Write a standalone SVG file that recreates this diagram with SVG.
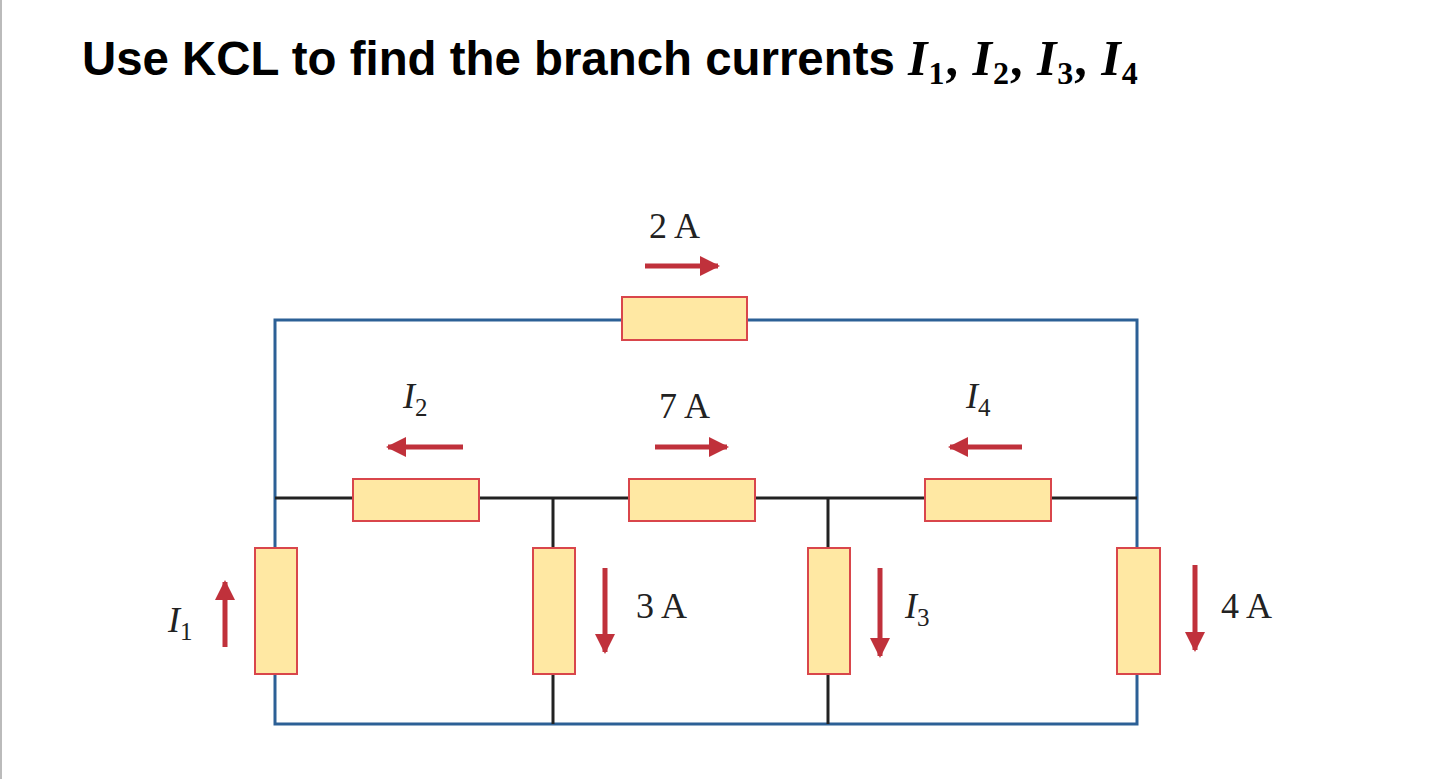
<svg xmlns="http://www.w3.org/2000/svg" width="1441" height="779" viewBox="0 0 1441 779">
<defs>
<style>
.r{fill:#FFE8A3;stroke:#D9464B;stroke-width:2}
.b{stroke:#2C6096;stroke-width:3;fill:none}
.k{stroke:#222;stroke-width:3;fill:none}
.a{stroke:#C0313B;stroke-width:5}
.t{font-family:"Liberation Serif",serif;font-size:36px;fill:#222}
.i{font-style:italic}
.s{font-size:25px}
</style>
<marker id="ah" viewBox="0 0 10 10" refX="9" refY="5" markerWidth="4.4" markerHeight="4" orient="auto" markerUnits="strokeWidth"><path d="M0,0L10,5L0,10z" fill="#C0313B"/></marker>
</defs>
<rect width="1441" height="779" fill="#fff"/>
<line x1="1" y1="0" x2="1" y2="779" stroke="#bbb" stroke-width="2"/>
<text x="82" y="75" font-family="Liberation Sans,Arial,sans-serif" font-weight="bold" font-size="47.4" fill="#000">Use KCL to find the branch currents <tspan font-family="Liberation Serif,serif" font-style="italic" font-size="50" letter-spacing="1">I<tspan font-size="32" dy="9" font-style="normal">1</tspan><tspan dy="-9" font-style="normal">, </tspan>I<tspan font-size="32" dy="9" font-style="normal">2</tspan><tspan dy="-9" font-style="normal">, </tspan>I<tspan font-size="32" dy="9" font-style="normal">3</tspan><tspan dy="-9" font-style="normal">, </tspan>I<tspan font-size="32" dy="9" font-style="normal">4</tspan></tspan></text>
<g id="wires">
<path class="b" d="M275,548V320H1137V548M275,674V724H1137V674"/>
<path class="k" d="M275,498H1137M553,498V548M553,674V724M828,498V548M828,674V724"/>
</g>
<g id="R1"><rect class="r" x="622" y="297" width="125" height="43"/></g>
<g id="R2"><rect class="r" x="353" y="479" width="126" height="42"/></g>
<g id="R3"><rect class="r" x="629" y="479" width="126" height="42"/></g>
<g id="R4"><rect class="r" x="925" y="479" width="126" height="42"/></g>
<g id="R5"><rect class="r" x="255" y="548" width="42" height="126"/></g>
<g id="R6"><rect class="r" x="533" y="548" width="42" height="126"/></g>
<g id="R7"><rect class="r" x="808" y="548" width="42" height="126"/></g>
<g id="R8"><rect class="r" x="1117" y="548" width="43" height="126"/></g>
<g id="arrows">
<line class="a" x1="645" y1="266" x2="718" y2="266" marker-end="url(#ah)"/>
<line class="a" x1="463" y1="447" x2="388" y2="447" marker-end="url(#ah)"/>
<line class="a" x1="655" y1="447" x2="727" y2="447" marker-end="url(#ah)"/>
<line class="a" x1="1022" y1="447" x2="950" y2="447" marker-end="url(#ah)"/>
<line class="a" x1="225" y1="647" x2="225" y2="582" marker-end="url(#ah)"/>
<line class="a" x1="605" y1="568" x2="605" y2="652" marker-end="url(#ah)"/>
<line class="a" x1="880" y1="568" x2="880" y2="656" marker-end="url(#ah)"/>
<line class="a" x1="1195" y1="565" x2="1195" y2="650" marker-end="url(#ah)"/>
</g>
<g id="labels">
<text class="t" x="649" y="238">2 A</text>
<text class="t" x="659" y="418">7 A</text>
<text class="t" x="636" y="618">3 A</text>
<text class="t" x="1221" y="618">4 A</text>
<text class="t i" x="403" y="408">I<tspan class="s" dy="8" font-style="normal">2</tspan></text>
<text class="t i" x="966" y="408">I<tspan class="s" dy="8" font-style="normal">4</tspan></text>
<text class="t i" x="168" y="632">I<tspan class="s" dy="8" font-style="normal">1</tspan></text>
<text class="t i" x="905" y="618">I<tspan class="s" dy="8" font-style="normal">3</tspan></text>
</g>
</svg>
